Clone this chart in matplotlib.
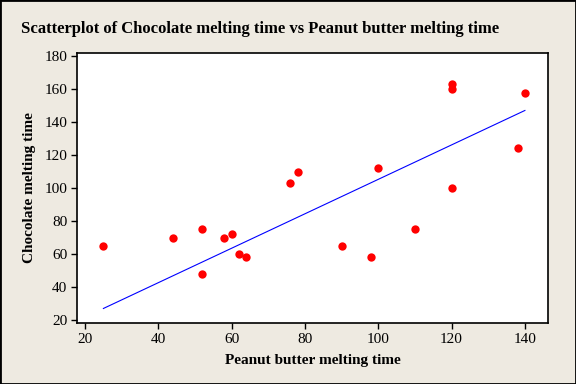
import matplotlib
matplotlib.use("Agg")
import matplotlib.pyplot as plt
from matplotlib.patches import Rectangle

# peanut butter vs chocolate melting times
peanut = [25, 44, 52, 52, 58, 60, 62, 64, 76, 78, 90, 98, 100, 110, 120, 120, 120, 138, 140]
choc = [65, 70, 75, 48, 70, 72, 60, 58, 103, 110, 65, 58, 112, 75, 163, 160, 100, 124, 157.5]
# fitted line ends as drawn in the original
fit_x = [25, 140]
fit_y = [27, 147]
xticks = [20, 40, 60, 80, 100, 120, 140]
yticks = [20, 40, 60, 80, 100, 120, 140, 160, 180]

bg = "#EEEAE1"
plt.rcParams["font.family"] = ["Liberation Serif", "DejaVu Serif"]

fig = plt.figure(figsize=(5.76, 3.84), dpi=100, facecolor=bg)
ax = fig.add_axes([77 / 576, 1 - 323 / 384, (548 - 77) / 576, (323 - 52.7) / 384])
ax.set_facecolor("white")

ax.plot(fit_x, fit_y, color="blue", lw=0.8)
ax.scatter(peanut, choc, s=36, color="red", zorder=3, linewidths=0)

ax.set_xlim(17.8, 146.3)
ax.set_ylim(18.2, 182)
ax.set_xticks(xticks)
ax.set_yticks(yticks)
ax.tick_params(direction="out", length=4, width=1, labelsize=11, color="black", pad=3)
for sp in ax.spines.values():
    sp.set_linewidth(1.2)

ax.set_xlabel("Peanut butter melting time", fontsize=11, fontweight="bold", labelpad=6)
ax.set_ylabel("Chocolate melting time", fontsize=11, fontweight="bold", labelpad=6)
fig.text(260.5 / 576, 1 - 29 / 384, "Scatterplot of Chocolate melting time vs Peanut butter melting time",
         ha="center", va="center", fontsize=12, fontweight="bold")

# outer frame
fig.patches.append(Rectangle((0, 0), 1, 1, transform=fig.transFigure, fill=False,
                             edgecolor="black", lw=2))

fig.savefig("out.png", dpi=100, facecolor=bg)
